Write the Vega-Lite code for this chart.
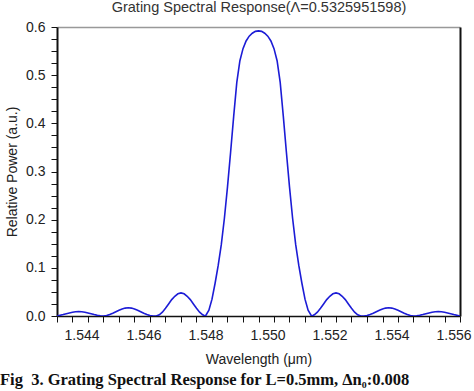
{
  "$schema": "https://vega.github.io/schema/vega-lite/v6.json",
  "autosize": "none",
  "width": 403,
  "height": 289,
  "padding": {"left": 57, "top": 27, "right": 14, "bottom": 75},
  "background": "white",
  "view": {"stroke": null},
  "title": {
    "text": "Fig\u00a0 3. Grating Spectral Response for L=0.5mm, Δn₀:0.008",
    "orient": "bottom",
    "anchor": "start",
    "frame": "group",
    "dx": -57,
    "offset": 6,
    "font": "Liberation Serif",
    "fontSize": 16.5,
    "fontWeight": "bold",
    "color": "#111"
  },
  "config": {
    "axis": {
      "labelFont": "Liberation Sans",
      "labelFontSize": 14,
      "labelColor": "#222",
      "titleFont": "Liberation Sans",
      "titleFontSize": 14,
      "titleFontWeight": "normal",
      "titleColor": "#222",
      "grid": false,
      "domainColor": "#111",
      "tickColor": "#111"
    }
  },
  "data": {
    "values": [
      {"wavelength": 1.5435, "power": 0.0},
      {"wavelength": 1.5436, "power": 0.0015},
      {"wavelength": 1.5437, "power": 0.003},
      {"wavelength": 1.5438, "power": 0.0047},
      {"wavelength": 1.5439, "power": 0.0063},
      {"wavelength": 1.5440, "power": 0.0077},
      {"wavelength": 1.5441, "power": 0.0087},
      {"wavelength": 1.5442, "power": 0.009},
      {"wavelength": 1.5443, "power": 0.0087},
      {"wavelength": 1.5444, "power": 0.0077},
      {"wavelength": 1.5445, "power": 0.0063},
      {"wavelength": 1.5446, "power": 0.0047},
      {"wavelength": 1.5447, "power": 0.003},
      {"wavelength": 1.5448, "power": 0.0015},
      {"wavelength": 1.5449, "power": 0.0005},
      {"wavelength": 1.5450, "power": 0.0},
      {"wavelength": 1.5451, "power": 0.0009},
      {"wavelength": 1.5452, "power": 0.0029},
      {"wavelength": 1.5453, "power": 0.0056},
      {"wavelength": 1.5454, "power": 0.0088},
      {"wavelength": 1.5455, "power": 0.012},
      {"wavelength": 1.5456, "power": 0.0146},
      {"wavelength": 1.5457, "power": 0.0164},
      {"wavelength": 1.5458, "power": 0.017},
      {"wavelength": 1.5459, "power": 0.0164},
      {"wavelength": 1.5460, "power": 0.0146},
      {"wavelength": 1.5461, "power": 0.012},
      {"wavelength": 1.5462, "power": 0.0088},
      {"wavelength": 1.5463, "power": 0.0056},
      {"wavelength": 1.5464, "power": 0.0029},
      {"wavelength": 1.5465, "power": 0.0009},
      {"wavelength": 1.5466, "power": 0.0},
      {"wavelength": 1.5467, "power": 0.0001},
      {"wavelength": 1.5468, "power": 0.0025},
      {"wavelength": 1.5469, "power": 0.008},
      {"wavelength": 1.5470, "power": 0.016},
      {"wavelength": 1.5471, "power": 0.025},
      {"wavelength": 1.5472, "power": 0.034},
      {"wavelength": 1.5473, "power": 0.041},
      {"wavelength": 1.5474, "power": 0.046},
      {"wavelength": 1.5475, "power": 0.048},
      {"wavelength": 1.5476, "power": 0.046},
      {"wavelength": 1.5477, "power": 0.041},
      {"wavelength": 1.5478, "power": 0.034},
      {"wavelength": 1.5479, "power": 0.025},
      {"wavelength": 1.5480, "power": 0.016},
      {"wavelength": 1.5481, "power": 0.008},
      {"wavelength": 1.5482, "power": 0.0025},
      {"wavelength": 1.54827, "power": 0.0},
      {"wavelength": 1.5483, "power": 0.001},
      {"wavelength": 1.5484, "power": 0.012},
      {"wavelength": 1.5485, "power": 0.035},
      {"wavelength": 1.5486, "power": 0.068},
      {"wavelength": 1.5487, "power": 0.105},
      {"wavelength": 1.5488, "power": 0.148},
      {"wavelength": 1.5489, "power": 0.203},
      {"wavelength": 1.5490, "power": 0.268},
      {"wavelength": 1.5491, "power": 0.340},
      {"wavelength": 1.5492, "power": 0.415},
      {"wavelength": 1.5493, "power": 0.485},
      {"wavelength": 1.5494, "power": 0.530},
      {"wavelength": 1.5495, "power": 0.555},
      {"wavelength": 1.5496, "power": 0.571},
      {"wavelength": 1.5497, "power": 0.581},
      {"wavelength": 1.5498, "power": 0.587},
      {"wavelength": 1.5499, "power": 0.591},
      {"wavelength": 1.5500, "power": 0.592},
      {"wavelength": 1.5501, "power": 0.591},
      {"wavelength": 1.5502, "power": 0.587},
      {"wavelength": 1.5503, "power": 0.581},
      {"wavelength": 1.5504, "power": 0.571},
      {"wavelength": 1.5505, "power": 0.555},
      {"wavelength": 1.5506, "power": 0.530},
      {"wavelength": 1.5507, "power": 0.485},
      {"wavelength": 1.5508, "power": 0.415},
      {"wavelength": 1.5509, "power": 0.340},
      {"wavelength": 1.5510, "power": 0.268},
      {"wavelength": 1.5511, "power": 0.203},
      {"wavelength": 1.5512, "power": 0.148},
      {"wavelength": 1.5513, "power": 0.105},
      {"wavelength": 1.5514, "power": 0.068},
      {"wavelength": 1.5515, "power": 0.035},
      {"wavelength": 1.5516, "power": 0.012},
      {"wavelength": 1.5517, "power": 0.001},
      {"wavelength": 1.55173, "power": 0.0},
      {"wavelength": 1.5518, "power": 0.0025},
      {"wavelength": 1.5519, "power": 0.008},
      {"wavelength": 1.5520, "power": 0.016},
      {"wavelength": 1.5521, "power": 0.025},
      {"wavelength": 1.5522, "power": 0.034},
      {"wavelength": 1.5523, "power": 0.041},
      {"wavelength": 1.5524, "power": 0.046},
      {"wavelength": 1.5525, "power": 0.048},
      {"wavelength": 1.5526, "power": 0.046},
      {"wavelength": 1.5527, "power": 0.041},
      {"wavelength": 1.5528, "power": 0.034},
      {"wavelength": 1.5529, "power": 0.025},
      {"wavelength": 1.5530, "power": 0.016},
      {"wavelength": 1.5531, "power": 0.008},
      {"wavelength": 1.5532, "power": 0.0025},
      {"wavelength": 1.5533, "power": 0.0001},
      {"wavelength": 1.5534, "power": 0.0},
      {"wavelength": 1.5535, "power": 0.0009},
      {"wavelength": 1.5536, "power": 0.0029},
      {"wavelength": 1.5537, "power": 0.0056},
      {"wavelength": 1.5538, "power": 0.0088},
      {"wavelength": 1.5539, "power": 0.012},
      {"wavelength": 1.5540, "power": 0.0146},
      {"wavelength": 1.5541, "power": 0.0164},
      {"wavelength": 1.5542, "power": 0.017},
      {"wavelength": 1.5543, "power": 0.0164},
      {"wavelength": 1.5544, "power": 0.0146},
      {"wavelength": 1.5545, "power": 0.012},
      {"wavelength": 1.5546, "power": 0.0088},
      {"wavelength": 1.5547, "power": 0.0056},
      {"wavelength": 1.5548, "power": 0.0029},
      {"wavelength": 1.5549, "power": 0.0009},
      {"wavelength": 1.5550, "power": 0.0},
      {"wavelength": 1.5551, "power": 0.0005},
      {"wavelength": 1.5552, "power": 0.0015},
      {"wavelength": 1.5553, "power": 0.003},
      {"wavelength": 1.5554, "power": 0.0047},
      {"wavelength": 1.5555, "power": 0.0063},
      {"wavelength": 1.5556, "power": 0.0077},
      {"wavelength": 1.5557, "power": 0.0087},
      {"wavelength": 1.5558, "power": 0.009},
      {"wavelength": 1.5559, "power": 0.0087},
      {"wavelength": 1.5560, "power": 0.0077},
      {"wavelength": 1.5561, "power": 0.0063},
      {"wavelength": 1.5562, "power": 0.0047},
      {"wavelength": 1.5563, "power": 0.003},
      {"wavelength": 1.5564, "power": 0.0015},
      {"wavelength": 1.5565, "power": 0.0}
    ]
  },
  "resolve": {"axis": {"x": "independent", "y": "independent"}},
  "layer": [
    {
      "mark": {"type": "line", "color": "#1c1cd6", "strokeWidth": 1.6, "clip": true},
      "encoding": {
        "x": {
          "field": "wavelength",
          "type": "quantitative",
          "scale": {"domain": [1.5435, 1.5565], "nice": false, "zero": false},
          "axis": {
            "orient": "bottom",
            "title": "Wavelength (μm)",
            "titlePadding": 10,
            "values": [1.5435, 1.544, 1.5445, 1.545, 1.5455, 1.546, 1.5465, 1.547, 1.5475, 1.548, 1.5485, 1.549, 1.5495, 1.55, 1.5505, 1.551, 1.5515, 1.552, 1.5525, 1.553, 1.5535, 1.554, 1.5545, 1.555, 1.5555, 1.556, 1.5565],
            "labelExpr": "abs(datum.value*1000 - round(datum.value*1000)) < 0.01 && round(datum.value*1000) % 2 == 0 ? format(datum.value, '.3f') : ''",
            "labelOffset": 9,
            "labelPadding": 6,
            "tickSize": 6,
            "domainWidth": 1.5,
            "labelOverlap": false,
            "labelBound": false
          }
        },
        "y": {
          "field": "power",
          "type": "quantitative",
          "scale": {"domain": [0, 0.6], "nice": false},
          "axis": {
            "orient": "left",
            "title": "Relative Power (a.u.)",
            "titlePadding": 6,
            "values": [0, 0.025, 0.05, 0.075, 0.1, 0.125, 0.15, 0.175, 0.2, 0.225, 0.25, 0.275, 0.3, 0.325, 0.35, 0.375, 0.4, 0.425, 0.45, 0.475, 0.5, 0.525, 0.55, 0.575, 0.6],
            "labelExpr": "round(datum.value*40) % 4 == 0 ? format(datum.value, '.1f') : ''",
            "labelPadding": 6,
            "tickSize": 6,
            "domainWidth": 2,
            "labelOverlap": false
          }
        }
      }
    },
    {
      "mark": {"type": "line", "opacity": 0},
      "encoding": {
        "x": {
          "field": "wavelength",
          "type": "quantitative",
          "axis": {
            "orient": "top",
            "title": "Grating Spectral Response(Λ=0.5325951598)",
            "titlePadding": 13,
            "titleFontSize": 14.5,
            "titleColor": "#333",
            "labels": false,
            "ticks": false,
            "domainColor": "#999",
            "domainWidth": 1.5
          }
        },
        "y": {
          "field": "power",
          "type": "quantitative",
          "axis": {
            "orient": "right",
            "title": null,
            "labels": false,
            "ticks": false,
            "domainColor": "#111",
            "domainWidth": 2
          }
        }
      }
    }
  ]
}
